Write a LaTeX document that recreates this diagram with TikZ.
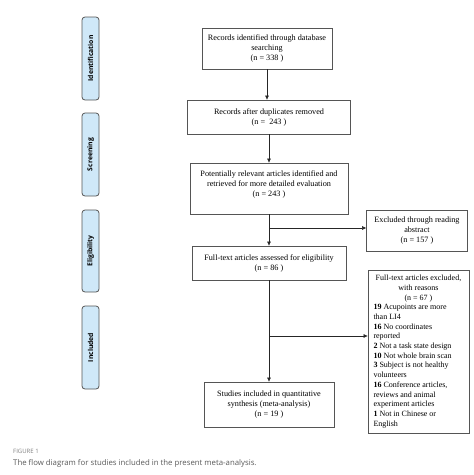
\documentclass[tikz,border=0pt]{standalone}
\usepackage{fontspec}
\setmainfont{Liberation Serif}
\newfontfamily\phasefont{Open Sans}
\newfontfamily\capfont{Open Sans}
\usetikzlibrary{arrows.meta}
\definecolor{phaseblue}{HTML}{CFE8F8}
\definecolor{edgegray}{HTML}{555555}
\begin{document}
\begin{tikzpicture}[x=1pt,y=-1pt,
  box/.style={draw=edgegray, line width=0.8pt, fill=white, inner sep=0pt, align=center,
    font=\fontsize{8.2}{10}\selectfont},
  phase/.style={draw=edgegray, line width=0.8pt, rounded corners=3pt, fill=phaseblue,
    inner sep=0pt, rotate=90, minimum width=83pt, minimum height=17pt,
    font=\phasefont\bfseries\fontsize{6.8}{8}\selectfont},
  arr/.style={-{Triangle[length=4pt,width=3.5pt]}, line width=0.6pt, draw=black!85}]
\useasboundingbox (0,0) rectangle (474,475);

% phase labels
\node[phase] (p1) at (90.5,58.5) {Identification};
\node[phase] (p2) at (90.5,154.5) {Screening};
\node[phase, minimum width=82pt] (p3) at (90.5,251) {Eligibility};
\node[phase] (p4) at (90.5,347.5) {Included};

% main boxes
\node[box, minimum width=130pt, minimum height=41pt] (b1) at (267,48.5)
  {Records identified through database\\searching\\(n = 338 )};
\node[box, minimum width=163pt, minimum height=34pt] (b2) at (269,117)
  {Records after duplicates removed\\(n =\ \ 243 )};
\node[box, minimum width=158pt, minimum height=51pt] (b3) at (269,188.5)
  {\parbox[c][51pt][c]{158pt}{\centering Potentially relevant articles identified and\\retrieved for more detailed evaluation\\(n = 243 )\par\vspace{9pt}}};
\node[box, minimum width=154pt, minimum height=34pt] (b4) at (269,263)
  {Full-text articles assessed for eligibility\\(n = 86 )};
\node[box, minimum width=130pt, minimum height=45pt] (b6) at (269,404.5)
  {Studies included in quantitative\\synthesis (meta-analysis)\\(n = 19 )};

% exclusion boxes
\node[box, minimum width=101pt, minimum height=41pt] (ex1) at (417,230.5)
  {Excluded through reading\\abstract\\(n = 157 )};
\node[box, minimum width=101pt, minimum height=163pt, font=\fontsize{8}{9.7}\selectfont] (ex2) at (418.5,351.5)
  {\parbox{90pt}{\centering Full-text articles excluded,\\with reasons\\(n = 67 )\par
   \raggedright
   \textbf{19} Acupoints are more\\than LI4\\
   \textbf{16} No coordinates\\reported\\
   \textbf{2} Not a task state design\\
   \textbf{10} Not whole brain scan\\
   \textbf{3} Subject is not healthy\\volunteers\\
   \textbf{16} Conference articles,\\reviews and animal\\experiment articles\\
   \textbf{1} Not in Chinese or\\English}};

% connectors
\draw[arr] (b1.south) -- (b1.south |- b2.north);
\draw[arr] (b2.south) -- (b2.south |- b3.north);
\draw[arr] (b3.south) -- (b3.south |- b4.north);
\coordinate (j1) at (269,228);
\draw[arr] (j1) -- (j1 -| ex1.west);
\draw[arr] (b4.south) -- (b4.south |- b6.north);
\coordinate (j2) at (269,336);
\draw[arr] (j2) -- (j2 -| ex2.west);

% caption
\node[anchor=west, inner sep=0pt, text=black!50, font=\capfont\fontsize{6}{7}\selectfont] (fig) at (13,451) {FIGURE 1};
\node[anchor=west, inner sep=0pt, text=black!65, font=\capfont\fontsize{7.8}{9}\selectfont] (cap) at (13,463) {The flow diagram for studies included in the present meta-analysis.};
\end{tikzpicture}
\end{document}
